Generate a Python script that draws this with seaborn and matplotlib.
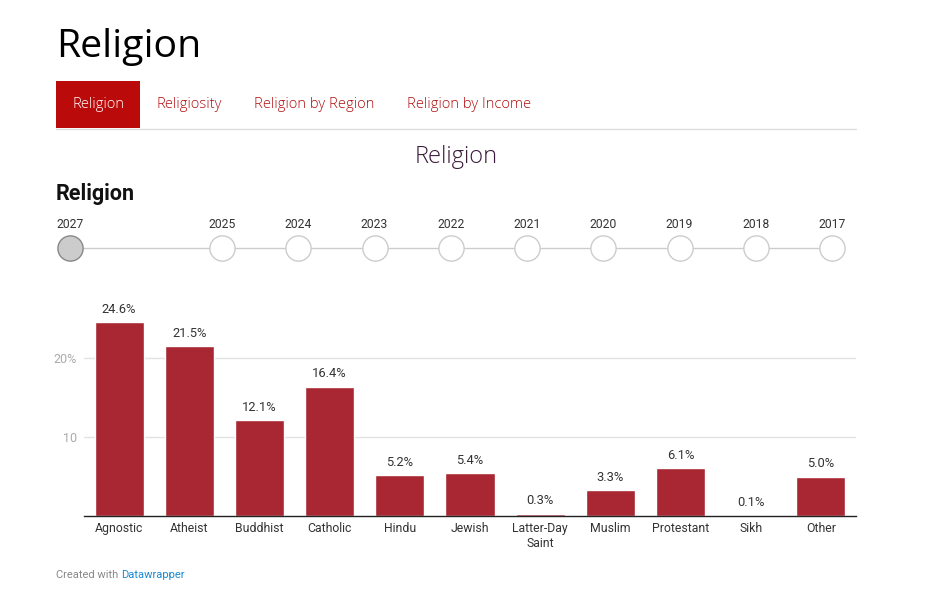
import matplotlib
matplotlib.use("Agg")
import matplotlib.pyplot as plt
import seaborn as sns
import pandas as pd
from matplotlib.patches import Rectangle

# ---- data ----
categories = ["Agnostic", "Atheist", "Buddhist", "Catholic", "Hindu", "Jewish",
              "Latter-Day\nSaint", "Muslim", "Protestant", "Sikh", "Other"]
values = [24.6, 21.5, 12.1, 16.4, 5.2, 5.4, 0.3, 3.3, 6.1, 0.1, 5.0]
years = ["2027", "2025", "2024", "2023", "2022", "2021", "2020", "2019", "2018", "2017"]
tabs = ["Religion", "Religiosity", "Religion by Region", "Religion by Income"]
y_ticks = [10, 20]
y_tick_labels = ["10", "20%"]

W, H = 945, 610
sns.set_theme(style="white")
plt.rcParams["font.family"] = ["Roboto", "DejaVu Sans"]

fig = plt.figure(figsize=(W / 100, H / 100), dpi=100)
fig.patch.set_facecolor("white")

# overlay axes in pixel coordinates for the page furniture
ov = fig.add_axes([0, 0, 1, 1])
ov.set_xlim(0, W)
ov.set_ylim(H, 0)
ov.axis("off")

ov.text(56, 47, "Religion", fontsize=28.3, family=["Open Sans", "DejaVu Sans"],
        color="black", va="center", ha="left")

# tabs
ov.add_patch(Rectangle((56, 81), 84, 47, color="#bb0a0a", lw=0))
tab_x = [98, 156, 254, 407]
for i, (t, x) in enumerate(zip(tabs, tab_x)):
    ov.text(x, 104, t, fontsize=10.6, family=["Open Sans", "DejaVu Sans"],
            fontweight="light",
            color="white" if i == 0 else "#b01010",
            ha="center" if i == 0 else "left", va="center")
ov.plot([56, 856], [128.5, 128.5], color="#dddddd", lw=1)

ov.text(456, 157, "Religion", fontsize=17, family=["Open Sans", "DejaVu Sans"],
        fontweight="light", color="#3a1a3a", ha="center", va="center")
ov.text(56, 194, "Religion", fontsize=15.5, fontweight="bold", color="#111111",
        ha="left", va="center")

# timeline
year_x = [70] + [222 + i * (832 - 222) / 8 for i in range(9)]
ov.plot([year_x[0], year_x[-1]], [248, 248], color="#cccccc", lw=1, zorder=1)
for i, (yr, x) in enumerate(zip(years, year_x)):
    ov.text(x, 224, yr, fontsize=8.7, color="#333333", ha="center", va="center")
    if i == 0:
        ov.scatter([x], [248], s=330, facecolor="#cccccc", edgecolor="#888888",
                   lw=1, zorder=3)
    else:
        ov.scatter([x], [248], s=330, facecolor="white", edgecolor="#cccccc",
                   lw=1, zorder=3)

# footer
t1 = ov.text(56, 575, "Created with ", fontsize=8, color="#888888",
             ha="left", va="center")
fig.canvas.draw()
bb = t1.get_window_extent()
ov.text(56 + bb.width, 575, "Datawrapper", fontsize=8, color="#1a8ad0",
        ha="left", va="center")

# bar chart
ax = fig.add_axes([84 / W, 1 - 516 / H, (856 - 84) / W, (516 - 295) / H])
df = pd.DataFrame({"cat": categories, "val": values})
sns.barplot(data=df, x="cat", y="val", color="#a82733", width=0.7,
            saturation=1, ax=ax, zorder=3)
ax.set_xlim(-0.5, len(categories) - 0.5)
ax.set_ylim(0, 28)
ax.set_xlabel("")
ax.set_ylabel("")
ax.set_yticks(y_ticks)
ax.set_yticklabels(y_tick_labels)
ax.tick_params(axis="y", length=0, labelsize=9, labelcolor="#aaaaaa", pad=5)
ax.tick_params(axis="x", length=0, labelsize=8.8, labelcolor="#333333", pad=4)
ax.yaxis.grid(True, color="#e3e3e3", lw=1, zorder=0)
for s in ["top", "right", "left"]:
    ax.spines[s].set_visible(False)
ax.spines["bottom"].set_color("#222222")
ax.spines["bottom"].set_linewidth(1)
ax.spines["bottom"].set_zorder(5)
ax.set_facecolor("none")
for i, v in enumerate(values):
    ax.text(i, v + 0.8, f"{v:.1f}%", ha="center", va="bottom", fontsize=9.3,
            color="#333333")

fig.savefig("out.png", dpi=100, facecolor="white")
